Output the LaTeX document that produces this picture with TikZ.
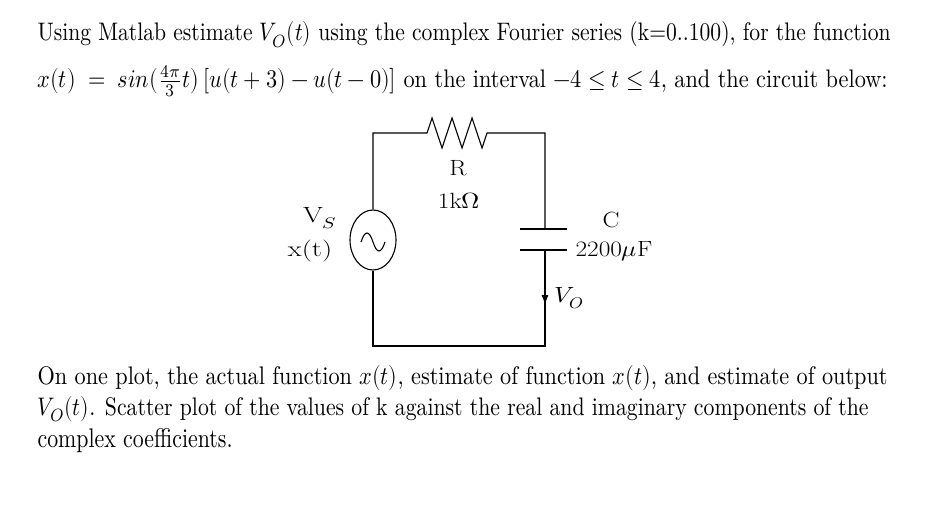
\documentclass[tikz,border=0pt]{standalone}
\usepackage{amsmath,amssymb,graphicx}
\usepackage{fontspec}
\usepackage{unicode-math}
\usetikzlibrary{shapes.geometric,arrows.meta}
\begin{document}
\begin{tikzpicture}[x=1pt,y=-1pt,line width=1.1pt,
  txt/.style={anchor=base west,inner sep=0pt},
  lbl/.style={inner sep=0pt,font=\fontsize{22}{26}\selectfont}]
\useasboundingbox (0,0) rectangle (933,508);
\node[txt] (l1) at (37,41) {\resizebox{853pt}{19pt}{Using Matlab estimate $V_O(t)$ using the complex Fourier series (k=0..100), for the function}};
\node[txt] (l2) at (37,88) {\resizebox{850pt}{22pt}{$x(t)\;=\;sin(\tfrac{4\pi}{3}t)\,[u(t+3)-u(t-0)]$ on the interval $-4\le t\le 4$, and the circuit below:}};
\node[txt] (b1) at (37,384) {\resizebox{850pt}{19pt}{On one plot, the actual function $x(t)$, estimate of function $x(t)$, and estimate of output}};
\node[txt] (b2) at (37,415) {\resizebox{831pt}{19pt}{$V_O(t)$. Scatter plot of the values of k against the real and imaginary components of the}};
\node[txt] (b3) at (37,447) {\resizebox{195pt}{19pt}{complex coefficients.}};
% circuit
\coordinate (tl) at (373,133); \coordinate (tr) at (545,133);
\coordinate (bl) at (373,346); \coordinate (br) at (545,346);
\node[draw,ellipse,minimum width=46pt,minimum height=60pt,inner sep=0pt] (src) at (373,240) {};
\draw (src.center) ++(-12,2) .. controls +(4,-12) and +(-4,-12) .. ++(12,0) .. controls +(4,12) and +(-4,12) .. ++(12,0);
\coordinate (r1) at (427,133); \coordinate (r2) at (490,133);
\draw (src.north) -- (tl) -- (r1) -- (432,118) -- (442,148) -- (452,118) -- (462,148) -- (472,118) -- (482,148) -- (487,133) -- (r2) -- (tr) -- (545,229);
\coordinate (cp1) at (545,229); \coordinate (cp2) at (545,250);
\draw (520,229) -- (567,229);
\draw (520,250) -- (567,250);
\draw (cp2) -- (br) -- (bl) -- (src.south);
\draw[-{Latex[length=10pt,width=7pt]}] (545,278) -- (545,305);
\node[lbl] (vo) at (569,298) {\scalebox{1.15}[1]{$V_O$}};
\node[lbl] (R) at (458,168) {\scalebox{1.15}[1]{R}};
\node[lbl] (Rv) at (459,201) {\scalebox{1.15}[1]{1k$\Omega$}};
\node[lbl] (C) at (611,220) {\scalebox{1.15}[1]{C}};
\node[lbl] (Cv) at (614,251) {\scalebox{1.15}[1]{2200$\mu$F}};
\node[lbl] (vs) at (320,218) {\scalebox{1.3}[1]{V$_{S}$}};
\node[lbl] (xt) at (310,251) {\scalebox{1.3}[1]{x(t)}};
\end{tikzpicture}
\end{document}
